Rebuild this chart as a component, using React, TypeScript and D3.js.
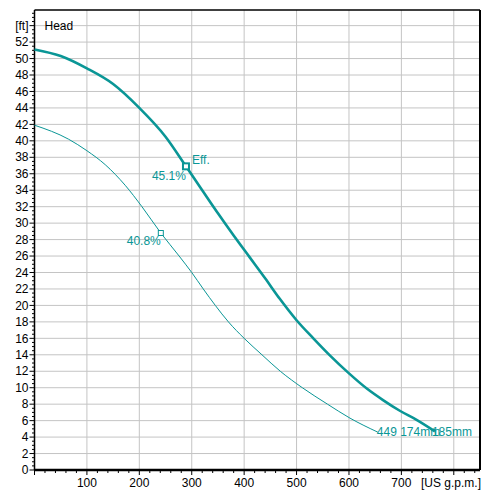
import * as d3 from "d3";

// pump curves (flow in US g.p.m., head in ft)
const bigFlow = [0, 50, 100, 150, 200, 250, 289, 320, 350, 380, 410, 440, 468, 500, 532, 564, 599, 634, 665, 697, 729, 764];
const bigHead = [51.1, 50.3, 48.8, 46.9, 44.0, 40.5, 36.9, 34.0, 31.2, 28.5, 25.9, 23.3, 20.8, 18.2, 16.0, 13.9, 11.8, 9.9, 8.5, 7.2, 6.1, 4.7];

const smallFlow = [0, 65, 100, 135, 173, 205, 241, 276, 300, 322, 345, 370, 400, 434, 469, 511, 559, 602, 655];
const smallHead = [41.9, 40.2, 38.8, 37.1, 34.6, 32.0, 28.8, 26.0, 24.0, 22.0, 20.0, 18.0, 16.0, 14.0, 12.0, 10.0, 8.0, 6.3, 4.6];

const curveLabels = ["185mm", "449 174mm"];
const effLabels = ["45.1%", "40.8%"];
const effFlow = [289, 241];
const effHead = [36.9, 28.8];

const xTicks = [100, 200, 300, 400, 500, 600, 700];
const xGrid = [100, 200, 300, 400, 500, 600, 700, 800];
const yTicks = d3.range(0, 53, 2);
const yGrid = d3.range(2, 55, 2);

const teal = "#0a9696";
const font = "'Liberation Sans', Arial, sans-serif";

export default function App() {
  const x = d3.scaleLinear().domain([0, 850]).range([34.5, 480]);
  const y = d3.scaleLinear().domain([0, 55.9]).range([470, 10]);

  const line = d3
    .line<number>()
    .x((d) => x(d))
    .curve(d3.curveMonotoneX);

  const bigPath = line.y((_, i) => y(bigHead[i]))(bigFlow) as string;
  const smallPath = line.y((_, i) => y(smallHead[i]))(smallFlow) as string;

  const xMinor = d3.range(0, 851, 20);
  const yMinor = d3.range(0, 55.9, 0.5);

  const lastBig = bigFlow.length - 1;
  const lastSmall = smallFlow.length - 1;

  return (
    <svg
      width={500}
      height={500}
      style={{ position: "absolute", left: 0, top: 0, background: "#fff" }}
      fontFamily={font}
      fontSize={12}
    >
      {/* grid */}
      {xGrid.map((v) => (
        <line key={"gx" + v} x1={x(v)} x2={x(v)} y1={y(55.9)} y2={y(0)} stroke="#c4c4c4" />
      ))}
      {yGrid.map((v) => (
        <line key={"gy" + v} x1={x(0)} x2={x(850)} y1={y(v)} y2={y(v)} stroke="#c4c4c4" />
      ))}

      {/* frame */}
      <line x1={x(0)} x2={x(850)} y1={y(55.9)} y2={y(55.9)} stroke="#000" strokeWidth={1.5} />
      <line x1={x(850)} x2={x(850)} y1={y(55.9)} y2={y(0)} stroke="#000" strokeWidth={2} />
      <line x1={x(0)} x2={x(0)} y1={y(55.9)} y2={y(0)} stroke="#000" strokeWidth={1.5} />
      <line x1={x(0)} x2={x(850)} y1={y(0)} y2={y(0)} stroke="#000" strokeWidth={2.5} />

      {/* y ticks */}
      {yMinor.map((v) => (
        <line
          key={"ym" + v}
          x1={x(0)}
          x2={x(0) - (v % 2 === 0 ? 5 : 2.5)}
          y1={y(v)}
          y2={y(v)}
          stroke="#000"
        />
      ))}
      {yTicks.map((v) => (
        <text key={"yl" + v} x={x(0) - 6} y={y(v)} dy="0.35em" textAnchor="end" fill="#000">
          {v}
        </text>
      ))}
      <text x={x(0) - 6} y={y(54)} dy="0.35em" textAnchor="end" fill="#000">[ft]</text>
      <text x={x(0) + 10} y={y(54)} dy="0.4em" fill="#000">Head</text>

      {/* x ticks */}
      {xMinor.map((v) => (
        <line
          key={"xm" + v}
          x1={x(v)}
          x2={x(v)}
          y1={y(0)}
          y2={y(0) + (v % 100 === 0 ? 5 : 3)}
          stroke="#000"
        />
      ))}
      {xTicks.map((v) => (
        <text key={"xl" + v} x={x(v)} y={y(0) + 17} textAnchor="middle" fill="#000">
          {v}
        </text>
      ))}
      <text x={x(850) + 1} y={y(0) + 17} textAnchor="end" fill="#000">[US g.p.m.]</text>

      {/* curves */}
      <path d={smallPath} fill="none" stroke={teal} strokeWidth={1} />
      <path d={bigPath} fill="none" stroke={teal} strokeWidth={2.6} />

      {/* efficiency markers */}
      <rect
        x={x(effFlow[1]) - 2.5}
        y={y(effHead[1]) - 2.5}
        width={5}
        height={5}
        fill="#fff"
        stroke={teal}
        strokeWidth={1}
      />
      <rect
        x={x(effFlow[0]) - 3}
        y={y(effHead[0]) - 3}
        width={6}
        height={6}
        fill="#fff"
        stroke={teal}
        strokeWidth={2}
      />
      <text x={x(effFlow[0])} y={y(effHead[0]) + 14} textAnchor="end" fill={teal}>
        {effLabels[0]}
      </text>
      <text x={x(effFlow[0]) + 6} y={y(effHead[0]) - 2} fill={teal}>Eff.</text>
      <text x={x(effFlow[1])} y={y(effHead[1]) + 12} textAnchor="end" fill={teal}>
        {effLabels[1]}
      </text>

      {/* curve end labels */}
      <text
        x={x(smallFlow[lastSmall]) - 1}
        y={y(smallHead[lastSmall])}
        dy="0.35em"
        fill={teal}
      >
        {curveLabels[1]}
      </text>
      <text
        x={x(bigFlow[lastBig]) - 3}
        y={y(smallHead[lastSmall])}
        dy="0.35em"
        fill={teal}
      >
        {curveLabels[0]}
      </text>
    </svg>
  );
}
